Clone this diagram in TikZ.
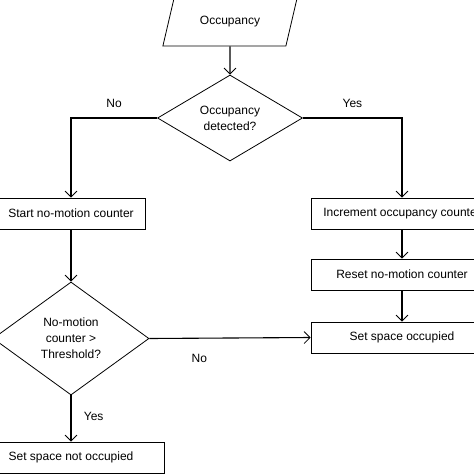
\documentclass[tikz,border=0pt]{standalone}
\usepackage{fontspec}
\setmainfont{Liberation Sans}
\usepackage{tikz}
\usetikzlibrary{arrows.meta,positioning,shapes.geometric}

\begin{document}
\begin{tikzpicture}[x=1pt, y=1pt,
  box/.style={draw, line width=0.8pt, minimum width=182, minimum height=31,
              inner sep=0pt, font=\fontsize{12}{15}\selectfont},
  ask/.style={draw, diamond, line width=0.8pt, align=center, inner sep=0pt,
              aspect=1.5, font=\fontsize{12}{16}\selectfont},
  inp/.style={draw, trapezium, trapezium left angle=61, trapezium right angle=119,
              trapezium stretches=true, line width=0.8pt, inner sep=0pt,
              font=\fontsize{12}{15}\selectfont},
  lab/.style={font=\fontsize{12}{15}\selectfont},
  >={Straight Barb[length=6pt, width=12pt, line width=0.8pt]}]
\useasboundingbox (0,0) rectangle (474,-474);
\node[inp, minimum width=135, minimum height=48] (occ) at (230,-22) {Occupancy};
\node[ask, minimum width=145, minimum height=86] (det) at (230,-118)
  {Occupancy\\detected?};
\node[box, minimum width=148] (start) at (71,-213.5) {Start no-motion counter};
\node[box] (incr) at (402,-213.5) {Increment occupancy counter};
\node[box] (reset) at (402,-274.5) {Reset no-motion counter};
\node[ask, minimum width=156, minimum height=113] (thr) at (71,-338.5)
  {No-motion\\counter >\\Threshold?};
\node[box] (occd) at (402,-337.5) {Set space occupied};
\node[box, minimum width=186] (free) at (71,-457.5) {Set space not occupied};
\begin{scope}[line width=1.1pt]
\draw[->] (occ) -- (det);
\draw[->] (det.west) -| node[lab, pos=0.25, above=7pt]{No} (start);
\draw[->] (det.east) -| node[lab, pos=0.25, above=7pt]{Yes} (incr);
\draw[->] (start) -- (thr);
\draw[->] (incr) -- (reset);
\draw[->] (reset) -- (occd);
\draw[->] (thr.east) -- node[lab, pos=0.31, below=12pt]{No} (occd.west);
\draw[->] (thr.south) -- node[lab, pos=0.45, right=9pt]{Yes} (free);
\end{scope}
\end{tikzpicture}
\end{document}
